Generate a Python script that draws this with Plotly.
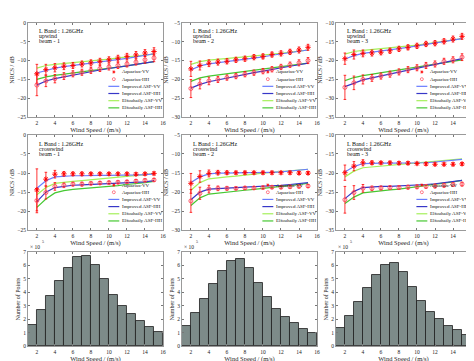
import plotly.graph_objects as go

# ---------------- data ----------------
wind = [2, 3, 4, 5, 6, 7, 8, 9, 10, 11, 12, 13, 14, 15]

# upwind, beam 1
up1_vv = [-13.5, -12.4, -11.9, -11.5, -11.3, -10.9, -10.6, -10.2, -9.8, -9.4, -8.9, -8.5, -8.0, -7.6]
up1_vv_err = [2.5, 1.4, 1.1, 0.9, 0.8, 0.8, 0.8, 0.8, 0.8, 0.8, 0.8, 0.9, 0.9, 1.0]
up1_hh = [-16.5, -15.4, -14.8, -14.1, -13.5, -13.1, -12.6, -12.1, -11.7, -11.3, -10.9, -10.4, -9.8, -9.3]
up1_hh_err = [2.8, 1.5, 1.1, 0.9, 0.8, 0.8, 0.8, 0.8, 0.8, 0.8, 0.8, 0.8, 0.9, 1.0]
up1_imp_vv = [-13.3, -12.6, -12.0, -11.6, -11.3, -11.0, -10.7, -10.3, -10.0, -9.7, -9.4, -9.0, -8.6, -8.2]
up1_imp_hh = [-16.5, -15.4, -14.8, -14.3, -13.9, -13.5, -12.9, -12.5, -12.1, -11.8, -11.4, -11.0, -10.7, -10.3]
up1_elf_vv = [-12.0, -11.3, -11.0, -10.8, -10.6, -10.3, -10.0, -9.8, -9.6, -9.3, -9.1, -8.9, -8.6, -8.3]
up1_elf_hh = [-15.0, -14.3, -13.9, -13.6, -13.3, -13.0, -12.6, -12.3, -12.0, -11.7, -11.4, -11.0, -10.7, -10.3]

# upwind, beam 2
up2_vv = [-17.2, -16.3, -15.7, -15.4, -15.2, -14.8, -14.5, -14.1, -13.9, -13.4, -13.1, -12.7, -12.2, -11.5]
up2_vv_err = [2.0, 1.2, 0.9, 0.8, 0.7, 0.7, 0.7, 0.7, 0.7, 0.7, 0.7, 0.7, 0.8, 0.8]
up2_hh = [-22.4, -21.2, -20.4, -20.0, -19.5, -19.1, -18.6, -18.2, -17.8, -17.3, -16.7, -16.1, -15.6, -15.0]
up2_hh_err = [2.4, 1.3, 1.0, 0.8, 0.7, 0.7, 0.7, 0.7, 0.7, 0.7, 0.7, 0.7, 0.8, 0.8]
up2_imp_vv = [-17.5, -16.4, -15.9, -15.6, -15.3, -15.0, -14.6, -14.3, -14.0, -13.6, -13.3, -13.0, -12.6, -12.2]
up2_imp_hh = [-22.3, -21.3, -20.6, -20.1, -19.6, -19.2, -18.7, -18.2, -17.8, -17.3, -16.9, -16.5, -16.1, -15.7]
up2_elf_vv = [-16.0, -15.3, -14.9, -14.6, -14.4, -14.2, -14.0, -13.8, -13.6, -13.4, -13.1, -12.8, -12.5, -12.2]
up2_elf_hh = [-20.5, -19.6, -19.1, -18.8, -18.5, -18.2, -17.9, -17.6, -17.3, -17.0, -16.7, -16.4, -16.1, -15.7]

# upwind, beam 3
up3_vv = [-19.5, -18.4, -18.1, -18.0, -17.8, -17.4, -16.9, -16.5, -16.1, -15.6, -15.4, -14.9, -14.3, -13.6]
up3_vv_err = [1.5, 1.2, 0.9, 0.8, 0.7, 0.7, 0.7, 0.7, 0.7, 0.7, 0.7, 0.7, 0.8, 0.8]
up3_hh = [-27.1, -25.9, -25.0, -24.6, -24.1, -23.6, -23.0, -22.4, -21.9, -21.3, -20.9, -20.2, -19.8, -19.1]
up3_hh_err = [3.2, 1.8, 1.2, 0.9, 0.8, 0.8, 0.8, 0.8, 0.8, 0.8, 0.8, 0.8, 0.8, 0.9]
up3_imp_vv = [-19.6, -18.7, -18.1, -17.8, -17.6, -17.3, -16.9, -16.5, -16.1, -15.7, -15.4, -15.0, -14.6, -14.2]
up3_imp_hh = [-26.9, -25.9, -25.1, -24.6, -24.1, -23.6, -23.1, -22.5, -22.0, -21.5, -21.0, -20.5, -20.0, -19.5]
up3_elf_vv = [-18.3, -17.6, -17.3, -17.1, -16.9, -16.7, -16.5, -16.2, -15.9, -15.6, -15.3, -15.0, -14.6, -14.2]
up3_elf_hh = [-25.3, -24.5, -24.0, -23.6, -23.2, -22.8, -22.5, -22.1, -21.8, -21.4, -21.0, -20.6, -20.2, -19.8]

# crosswind, beam 1
cr1_vv = [-14.4, -11.6, -10.3, -10.2, -10.2, -10.2, -10.2, -10.2, -10.2, -10.2, -10.2, -10.3, -10.2, -10.1]
cr1_vv_err = [5.5, 1.8, 1.0, 0.6, 0.5, 0.5, 0.4, 0.4, 0.4, 0.4, 0.4, 0.4, 0.4, 0.4]
cr1_hh = [-17.2, -15.1, -13.5, -13.2, -12.9, -12.9, -12.7, -12.6, -12.5, -12.4, -12.3, -12.1, -11.9, -11.8]
cr1_hh_err = [3.2, 1.7, 1.0, 0.6, 0.5, 0.5, 0.4, 0.4, 0.4, 0.4, 0.4, 0.4, 0.4, 0.4]
cr1_imp_vv = [-14.0, -12.0, -11.0, -10.8, -10.7, -10.7, -10.6, -10.6, -10.6, -10.6, -10.6, -10.5, -10.4, -10.2]
cr1_imp_hh = [-17.5, -15.0, -13.8, -13.4, -13.2, -13.1, -13.0, -12.9, -12.8, -12.7, -12.6, -12.5, -12.3, -12.0]
cr1_elf_vv = [-15.7, -13.8, -12.7, -12.4, -12.2, -12.0, -11.8, -11.6, -11.4, -11.2, -10.9, -10.7, -10.4, -10.1]
cr1_elf_hh = [-19.0, -16.8, -15.2, -14.6, -14.3, -14.1, -14.0, -13.8, -13.6, -13.3, -13.0, -12.8, -12.5, -12.2]

# crosswind, beam 2
cr2_vv = [-17.7, -15.9, -15.1, -14.9, -14.9, -14.9, -14.9, -14.9, -14.9, -14.9, -14.9, -14.9, -15.0, -15.0]
cr2_vv_err = [2.6, 1.5, 0.9, 0.6, 0.5, 0.4, 0.4, 0.4, 0.4, 0.4, 0.4, 0.4, 0.4, 0.4]
cr2_hh = [-22.3, -20.3, -19.2, -19.0, -19.0, -19.0, -18.9, -18.9, -18.8, -18.7, -18.7, -18.6, -18.5, -18.4]
cr2_hh_err = [3.0, 1.6, 1.0, 0.6, 0.5, 0.4, 0.4, 0.4, 0.4, 0.4, 0.4, 0.4, 0.4, 0.4]
cr2_imp_vv = [-17.5, -16.0, -15.2, -15.0, -15.0, -14.9, -14.9, -14.9, -14.9, -14.8, -14.7, -14.5, -14.3, -14.0]
cr2_imp_hh = [-22.0, -20.0, -19.2, -19.0, -18.9, -18.8, -18.7, -18.6, -18.5, -18.4, -18.2, -18.0, -17.8, -17.5]
cr2_elf_vv = [-19.5, -17.5, -16.5, -16.2, -16.0, -15.8, -15.5, -15.3, -15.0, -14.8, -14.6, -14.4, -14.2, -14.0]
cr2_elf_hh = [-23.5, -21.5, -20.5, -20.2, -20.0, -19.8, -19.5, -19.3, -19.0, -18.8, -18.5, -18.2, -18.0, -17.7]

# crosswind, beam 3
cr3_vv = [-19.9, -18.2, -17.3, -17.3, -17.3, -17.3, -17.4, -17.4, -17.5, -17.6, -17.7, -17.7, -17.7, -17.6]
cr3_vv_err = [2.0, 1.2, 0.8, 0.5, 0.4, 0.4, 0.4, 0.4, 0.4, 0.4, 0.4, 0.4, 0.4, 0.4]
cr3_hh = [-27.0, -25.1, -24.0, -24.0, -23.9, -23.8, -23.8, -23.7, -23.6, -23.5, -23.4, -23.2, -23.0, -22.9]
cr3_hh_err = [3.5, 1.8, 1.0, 0.6, 0.5, 0.5, 0.5, 0.5, 0.5, 0.5, 0.5, 0.5, 0.5, 0.5]
cr3_imp_vv = [-19.7, -18.3, -17.5, -17.4, -17.4, -17.4, -17.4, -17.4, -17.4, -17.3, -17.1, -16.9, -16.7, -16.4]
cr3_imp_hh = [-26.7, -24.8, -23.8, -23.6, -23.5, -23.5, -23.4, -23.3, -23.2, -23.0, -22.8, -22.5, -22.2, -21.9]
cr3_elf_vv = [-21.0, -19.5, -18.6, -18.4, -18.2, -18.0, -17.8, -17.6, -17.4, -17.2, -17.0, -16.8, -16.6, -16.3]
cr3_elf_hh = [-28.0, -26.3, -25.2, -24.9, -24.7, -24.4, -24.2, -23.9, -23.6, -23.3, -23.0, -22.6, -22.3, -21.9]

# histograms of number of points (x 10^5), bins of 1 m/s from 1 to 16
bin_edges = [1, 2, 3, 4, 5, 6, 7, 8, 9, 10, 11, 12, 13, 14, 15, 16]
hist_b1 = [1.6, 2.68, 3.72, 4.82, 5.79, 6.64, 6.72, 6.03, 4.99, 3.84, 2.99, 2.38, 1.90, 1.46, 1.09]
hist_b2 = [1.5, 2.5, 3.55, 4.6, 5.6, 6.35, 6.5, 5.8, 4.7, 3.65, 2.8, 2.2, 1.75, 1.3, 1.0]
hist_b3 = [1.35, 2.25, 3.3, 4.3, 5.3, 6.0, 6.15, 5.5, 4.4, 3.4, 2.55, 2.0, 1.55, 1.2, 0.85]

nrcs_ylims = [[-25, 0], [-30, -5], [-35, -10]]
beam_labels = ["beam - 1", "beam - 2", "beam - 3"]
band_label = "L Band : 1.26GHz"
legend_names = ["Aquarius-VV", "Aquarius-HH", "Improved ASF-VV", "Improved ASF-HH",
                "Elfouhaily ASF-VV", "Elfouhaily ASF-HH"]

# ---------------- styling ----------------
W, H = 474, 361
FONT = "Liberation Serif"
col_px = [(20, 156), (175, 311), (330, 466)]
row_px = [(12, 108), (126, 223), (245, 341)]
C_IMP_VV = "rgb(105,125,255)"
C_IMP_HH = "rgb(55,55,200)"
C_ELF_VV = "rgb(165,240,90)"
C_ELF_HH = "rgb(70,200,50)"
C_OBS = "rgb(255,0,0)"
C_OBS_HH = "rgb(255,70,90)"

fig = go.Figure()


def ax_names(k):
    s = "" if k == 1 else str(k)
    return "x" + s, "y" + s


def axis_common():
    return dict(showline=True, mirror="ticks", linecolor="#9a9a9a", linewidth=0.7,
                ticks="inside", ticklen=2, tickcolor="#777", tickwidth=0.6,
                showgrid=False, zeroline=False,
                tickfont=dict(family=FONT, size=5.5, color="#222"))


panels = [
    ("upwind", up1_vv, up1_vv_err, up1_hh, up1_hh_err, up1_imp_vv, up1_imp_hh, up1_elf_vv, up1_elf_hh),
    ("upwind", up2_vv, up2_vv_err, up2_hh, up2_hh_err, up2_imp_vv, up2_imp_hh, up2_elf_vv, up2_elf_hh),
    ("upwind", up3_vv, up3_vv_err, up3_hh, up3_hh_err, up3_imp_vv, up3_imp_hh, up3_elf_vv, up3_elf_hh),
    ("crosswind", cr1_vv, cr1_vv_err, cr1_hh, cr1_hh_err, cr1_imp_vv, cr1_imp_hh, cr1_elf_vv, cr1_elf_hh),
    ("crosswind", cr2_vv, cr2_vv_err, cr2_hh, cr2_hh_err, cr2_imp_vv, cr2_imp_hh, cr2_elf_vv, cr2_elf_hh),
    ("crosswind", cr3_vv, cr3_vv_err, cr3_hh, cr3_hh_err, cr3_imp_vv, cr3_imp_hh, cr3_elf_vv, cr3_elf_hh),
]

layout_axes = {}
annotations = []
shapes = []

for k in range(1, 10):
    r, c = (k - 1) // 3, (k - 1) % 3
    xa, ya = ax_names(k)
    xdom = [col_px[c][0] / W, col_px[c][1] / W]
    ydom = [1 - row_px[r][1] / H, 1 - row_px[r][0] / H]
    xax = axis_common()
    xax.update(domain=xdom, range=[1, 16], tickvals=[2, 4, 6, 8, 10, 12, 14, 16], anchor=ya,
               title=dict(text="Wind Speed / (m/s)", font=dict(family=FONT, size=6.5, color="#222"),
                          standoff=1))
    yax = axis_common()
    if r < 2:
        lo, hi = nrcs_ylims[c]
        yax.update(domain=ydom, range=[lo, hi], dtick=5, anchor=xa,
                   title=dict(text="NRCS / dB", font=dict(family=FONT, size=6, color="#222"), standoff=2))
    else:
        yax.update(domain=ydom, range=[0, 7], dtick=1, anchor=xa,
                   title=dict(text="Number of Points", font=dict(family=FONT, size=6, color="#222"), standoff=2))
    layout_axes["xaxis" + xa[1:]] = xax
    layout_axes["yaxis" + ya[1:]] = yax

    if r < 2:
        wdir, vv, vve, hh, hhe, ivv, ihh, evv, ehh = panels[k - 1]
        for ys, col in [(evv, C_ELF_VV), (ehh, C_ELF_HH), (ivv, C_IMP_VV), (ihh, C_IMP_HH)]:
            fig.add_trace(go.Scatter(x=wind, y=ys, mode="lines", xaxis=xa, yaxis=ya,
                                     line=dict(color=col, width=1.2), showlegend=False))
        fig.add_trace(go.Scatter(x=wind, y=vv, mode="markers", xaxis=xa, yaxis=ya, showlegend=False,
                                 marker=dict(symbol="asterisk-open", size=4.5, color=C_OBS,
                                             line=dict(color=C_OBS, width=0.9)),
                                 error_y=dict(type="data", array=vve, color=C_OBS, thickness=0.8, width=1.3)))
        fig.add_trace(go.Scatter(x=wind, y=hh, mode="markers", xaxis=xa, yaxis=ya, showlegend=False,
                                 marker=dict(symbol="circle-open", size=4, color=C_OBS_HH,
                                             line=dict(color=C_OBS_HH, width=0.9)),
                                 error_y=dict(type="data", array=hhe, color=C_OBS, thickness=0.8, width=1.3)))
        # text block
        off = 8 if r == 0 else 9
        hpx = row_px[r][1] - row_px[r][0]
        for i, t in enumerate([band_label, wdir, beam_labels[c]]):
            annotations.append(dict(text=t, xref=xa + " domain", yref=ya + " domain",
                                    x=(29 - col_px[0][0]) / 136, y=1 - (off + 5 * i) / hpx,
                                    xanchor="left", yanchor="middle", showarrow=False,
                                    font=dict(family=FONT, size=6, color="#111")))
        # manual legend
        wpx = col_px[c][1] - col_px[c][0]
        for i, name in enumerate(legend_names):
            ypos = (46 - 7.3 * i) / hpx
            x0, x1 = 81 / wpx, 92 / wpx
            xm = (x0 + x1) / 2
            if i == 0:
                dx, dy = 1.6 / wpx, 1.6 / hpx
                for (ax0, ay0, ax1, ay1) in [(-dx, 0, dx, 0), (0, -dy, 0, dy),
                                             (-dx * 0.7, -dy * 0.7, dx * 0.7, dy * 0.7),
                                             (-dx * 0.7, dy * 0.7, dx * 0.7, -dy * 0.7)]:
                    shapes.append(dict(type="line", xref=xa + " domain", yref=ya + " domain",
                                       x0=xm + ax0, y0=ypos + ay0, x1=xm + ax1, y1=ypos + ay1,
                                       line=dict(color=C_OBS, width=0.7)))
            elif i == 1:
                dx, dy = 1.5 / wpx, 1.5 / hpx
                shapes.append(dict(type="circle", xref=xa + " domain", yref=ya + " domain",
                                   x0=xm - dx, y0=ypos - dy, x1=xm + dx, y1=ypos + dy,
                                   line=dict(color=C_OBS_HH, width=0.7)))
            else:
                col = [C_IMP_VV, C_IMP_HH, C_ELF_VV, C_ELF_HH][i - 2]
                shapes.append(dict(type="line", xref=xa + " domain", yref=ya + " domain",
                                   x0=x0, y0=ypos, x1=x1, y1=ypos, line=dict(color=col, width=1.2)))
            annotations.append(dict(text=name, xref=xa + " domain", yref=ya + " domain",
                                    x=93 / wpx, y=ypos, xanchor="left", yanchor="middle",
                                    showarrow=False, font=dict(family=FONT, size=5, color="#111")))
    else:
        counts = [hist_b1, hist_b2, hist_b3][c]
        centers = [(bin_edges[i] + bin_edges[i + 1]) / 2 for i in range(len(bin_edges) - 1)]
        widths = [bin_edges[i + 1] - bin_edges[i] for i in range(len(bin_edges) - 1)]
        fig.add_trace(go.Bar(x=centers, y=counts, width=widths, xaxis=xa, yaxis=ya, showlegend=False,
                             marker=dict(color="rgb(125,139,137)", line=dict(color="#1e1e1e", width=0.8))))
        wpx = col_px[c][1] - col_px[c][0]
        annotations.append(dict(text="× 10", xref=xa + " domain", yref=ya + " domain",
                                x=0.0, y=1.0, xanchor="left", yanchor="bottom", showarrow=False,
                                font=dict(family=FONT, size=5.5, color="#222")))
        annotations.append(dict(text="5", xref=xa + " domain", yref=ya + " domain",
                                x=12.5 / wpx, y=1.06, xanchor="left", yanchor="bottom", showarrow=False,
                                font=dict(family=FONT, size=4, color="#222")))

fig.update_layout(width=W, height=H, margin=dict(l=0, r=0, t=0, b=0),
                  paper_bgcolor="white", plot_bgcolor="white", bargap=0,
                  annotations=annotations, shapes=shapes, **layout_axes)

fig.write_html("out.html")
